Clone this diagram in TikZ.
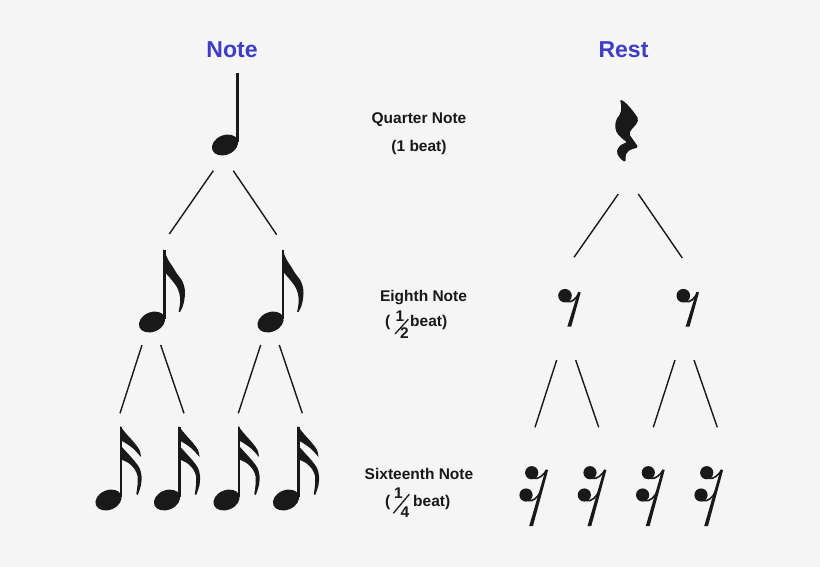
\documentclass[tikz,border=0pt]{standalone}
\usepackage{fontspec}
\setmainfont{Liberation Sans}
\definecolor{bgc}{RGB}{245,245,245}
\definecolor{titleblue}{RGB}{62,62,196}
\definecolor{ink}{RGB}{25,25,25}
\begin{document}
\begin{tikzpicture}[x=1pt,y=-1pt,
  titletext/.style={font=\fontsize{23}{27}\selectfont\bfseries, text=titleblue, anchor=base, inner sep=0pt},
  lbl/.style={font=\fontsize{15.5}{18}\selectfont\bfseries, text=ink, anchor=base, inner sep=0pt},
  lblw/.style={lbl, anchor=base west},
  conn/.style={draw=ink, line width=1.4pt},
  notehead/.pic={\fill[ink, rotate=23] (0,0) ellipse [x radius=13.6pt, y radius=9.8pt];},
  stemline/.style={draw=ink, line width=2.2pt},
  quarternote/.pic={
    \pic {notehead};
    \draw[stemline] (12.5,-3) -- (12.5,-72);
  },
  eighthnote/.pic={
    \pic {notehead};
    \draw[stemline] (12.5,-3) -- (12.5,-72);
    \fill[ink] plot[smooth, tension=0.55] coordinates {(11.5,-73) (16.3,-62) (20.7,-55.3) (24.7,-48.7) (29.7,-42) (32.3,-35.3) (33,-28.7) (32.3,-22) (30.7,-15.3) (28,-10)}
      -- plot[smooth, tension=0.55] coordinates {(26.6,-10.3) (27.6,-15.3) (28.2,-22) (27.3,-28.7) (24.7,-35.3) (19.7,-42) (14,-48.7) (11.5,-52)} -- cycle;
  },
  sixteenthnote/.pic={
    \pic {notehead};
    \draw[stemline] (12.5,-3) -- (12.5,-73);
    \fill[ink] plot[smooth, tension=0.55] coordinates {(11.5,-74) (18,-66) (26,-57) (31,-50) (32.5,-43)}
      -- plot[smooth, tension=0.55] coordinates {(29,-47) (24,-52) (17,-57) (11.5,-60)} -- cycle;
    \fill[ink] plot[smooth, tension=0.55] coordinates {(11.5,-55) (18,-48) (26,-39) (31,-32) (33,-24) (32.5,-15) (30,-7) (29,-5)}
      -- plot[smooth, tension=0.55] coordinates {(27.8,-6) (29,-15) (29,-24) (26,-31) (20,-37) (11.5,-41)} -- cycle;
  },
  eighthrest/.pic={
    \fill[ink] (0,0) circle (6.8pt);
    \draw[ink, line width=1.7pt] (2,5.8) .. controls (7,7.5) and (12,2) .. (14.3,-3.3);
    \fill[ink] (13.1,-3.8) -- (15.7,-3.3) -- (6.2,31) -- (2.3,31) -- cycle;
  },
  sixteenthrest/.pic={
    \fill[ink] (0,0) circle (6.6pt);
    \fill[ink] (-5.7,22.3) circle (6.6pt);
    \draw[ink, line width=1.6pt] (2,5.6) .. controls (7,7) and (12,2) .. (15,-2.7);
    \draw[ink, line width=1.6pt] (-3.7,27.9) .. controls (1.3,29.3) and (6.3,24.3) .. (8.8,19);
    \fill[ink] (13.9,-3.2) -- (16.4,-2.7) -- (1.3,53.3) -- (-2.5,53.3) -- cycle;
  }
]
\fill[bgc] (0,0) rectangle (820,567);
\useasboundingbox (0,0) rectangle (820,567);

% titles
\node[titletext] (tnote) at (232,58) {Note};
\node[titletext] (trest) at (623.5,58) {Rest};

% notes
\pic at (225,145) {quarternote};
\pic at (152,322) {eighthnote};
\pic at (270.5,322) {eighthnote};
\pic at (108.5,500) {sixteenthnote};
\pic at (167,500) {sixteenthnote};
\pic at (226.5,500) {sixteenthnote};
\pic at (286,500) {sixteenthnote};

% quarter rest
\fill[ink, rounded corners=1.8pt]
  (620,99) -- (626,103) -- (633,111) -- (638.5,119) -- (636.5,124) -- (631,130) -- (629,134)
  -- (634,141) -- (638.5,147.5)
  -- (632,149) -- (627.5,151.5) -- (625.5,155.5) -- (625.5,162.5)
  -- (620,158.5) -- (616.5,152.5) -- (618.5,147) -- (623,143.5) -- (627.5,142.5)
  -- (622,138.5) -- (617,133.5) -- (615,127) -- (616,120) -- (620.5,113.5) -- (621.5,107.5) -- cycle;

% rests
\pic at (565,295.7) {eighthrest};
\pic at (683.3,295.7) {eighthrest};
\pic at (531.7,472.7) {sixteenthrest};
\pic at (590,472.7) {sixteenthrest};
\pic at (648.3,472.7) {sixteenthrest};
\pic at (706.7,472.7) {sixteenthrest};

% connector end points
\coordinate (qA) at (213.3,170.7); \coordinate (e1T) at (169.3,234);
\coordinate (qB) at (233.3,170.7); \coordinate (e2T) at (276.7,234.7);
\coordinate (e1A) at (142,345);    \coordinate (s1T) at (120,413.3);
\coordinate (e1B) at (160.7,345);  \coordinate (s2T) at (184,413.3);
\coordinate (e2A) at (260.7,345);  \coordinate (s3T) at (238.3,413.3);
\coordinate (e2B) at (279.3,345);  \coordinate (s4T) at (302.3,413.3);
\coordinate (rA) at (618.3,194);   \coordinate (r1T) at (574,257.3);
\coordinate (rB) at (638.3,194);   \coordinate (r2T) at (682.3,258);
\coordinate (r1A) at (556.7,360);  \coordinate (rs1T) at (535,427.3);
\coordinate (r1B) at (575.7,360);  \coordinate (rs2T) at (598.7,427.3);
\coordinate (r2A) at (675,360);    \coordinate (rs3T) at (653.3,427.3);
\coordinate (r2B) at (694,360);    \coordinate (rs4T) at (717.3,427.3);

\draw[conn] (qA) -- (e1T);
\draw[conn] (qB) -- (e2T);
\draw[conn] (e1A) -- (s1T);
\draw[conn] (e1B) -- (s2T);
\draw[conn] (e2A) -- (s3T);
\draw[conn] (e2B) -- (s4T);
\draw[conn] (rA) -- (r1T);
\draw[conn] (rB) -- (r2T);
\draw[conn] (r1A) -- (rs1T);
\draw[conn] (r1B) -- (rs2T);
\draw[conn] (r2A) -- (rs3T);
\draw[conn] (r2B) -- (rs4T);

% labels
\node[lbl] (lq1) at (419,124) {Quarter Note};
\node[lbl] (lq2) at (419,152) {(1 beat)};

\node[lbl] (le1) at (423.5,301) {Eighth Note};
\node[lblw] (le2p) at (385,326) {(};
\node[lbl] (le2n) at (400,321.5) {1};
\node[lbl] (le2d) at (404.5,338) {2};
\draw[draw=ink, line width=1.3pt] (395,334) -- (408.3,319.3);
\node[lblw] (le2b) at (410,326) {beat)};

\node[lbl] (ls1) at (419,479) {Sixteenth Note};
\node[lblw] (ls2p) at (385,506) {(};
\node[lbl] (ls2n) at (398.5,498) {1};
\node[lbl] (ls2d) at (405,517.7) {4};
\draw[draw=ink, line width=1.3pt] (393.3,513.3) -- (409.3,494.3);
\node[lblw] (ls2b) at (413,506) {beat)};
\end{tikzpicture}
\end{document}
